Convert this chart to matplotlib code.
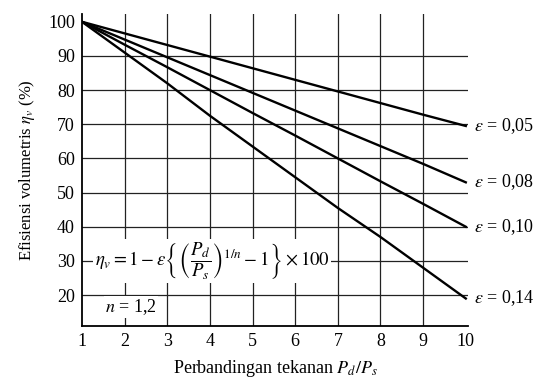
import matplotlib
matplotlib.use('Agg')
import matplotlib.pyplot as plt

# pressure ratio Pd/Ps
ratio = [1, 2, 3, 4, 5, 6, 7, 8, 9, 10]

# volumetric efficiency (%) per clearance ratio
eff_005 = [100, 96.6, 93.2, 89.8, 86.4, 83.0, 79.6, 76.2, 72.8, 69.5]
eff_008 = [100, 94.8, 89.6, 84.4, 79.2, 74.0, 68.8, 63.6, 58.4, 53.0]
eff_010 = [100, 93.3, 86.7, 80.0, 73.3, 66.7, 60.0, 53.3, 46.7, 40.0]
eff_014 = [100, 91.0, 82.0, 72.5, 63.5, 54.5, 45.5, 37.0, 28.0, 19.0]

series = [eff_005, eff_008, eff_010, eff_014]
series_labels = [r'$\varepsilon$ = 0,05', r'$\varepsilon$ = 0,08',
                 r'$\varepsilon$ = 0,10', r'$\varepsilon$ = 0,14']

x_ticks = [1, 2, 3, 4, 5, 6, 7, 8, 9, 10]
y_ticks = [20, 30, 40, 50, 60, 70, 80, 90, 100]

plt.rcParams['font.family'] = ['Liberation Serif', 'DejaVu Serif']
plt.rcParams['mathtext.fontset'] = 'stix'

fig = plt.figure(figsize=(5.46, 3.86), dpi=100)
ax = fig.add_axes([0.150, 0.155, 0.707, 0.809])

# grid
for gx in x_ticks[1:-1]:
    ax.axvline(gx, color='#222222', lw=0.9, zorder=1)
for gy in y_ticks[:-1]:
    ax.axhline(gy, color='#222222', lw=0.9, zorder=1)

for vals, lab in zip(series, series_labels):
    ax.plot(ratio, vals, color='black', lw=1.7, zorder=3)
    ax.text(10.2, vals[-1], lab, ha='left', va='center', fontsize=13,
            clip_on=False)

ax.set_xlim(1, 10.05)
ax.set_ylim(10.9, 102.3)
ax.set_xticks(x_ticks)
ax.set_yticks(y_ticks)
ax.tick_params(length=0, labelsize=13, pad=5)
for sp in ['top', 'right']:
    ax.spines[sp].set_visible(False)
ax.spines['left'].set_linewidth(1.3)
ax.spines['bottom'].set_linewidth(1.3)

ax.set_ylabel(r'Efisiensi volumetris $\eta_v$ (%)', fontsize=12, labelpad=8)
ax.set_xlabel(r'Perbandingan tekanan $P_d/P_s$', fontsize=13, labelpad=6)

ax.text(1.3, 30,
        r'$\eta_v = 1 - \varepsilon\left\{\left(\dfrac{P_d}{P_s}\right)^{1/n} - 1\right\} \times 100$',
        fontsize=13.5, ha='left', va='center', zorder=4,
        bbox=dict(facecolor='white', edgecolor='none', pad=1))
ax.text(1.55, 16.5, r'$n$ = 1,2', fontsize=13, ha='left', va='center',
        zorder=4, bbox=dict(facecolor='white', edgecolor='none', pad=1))

fig.savefig('out.png', dpi=100)
